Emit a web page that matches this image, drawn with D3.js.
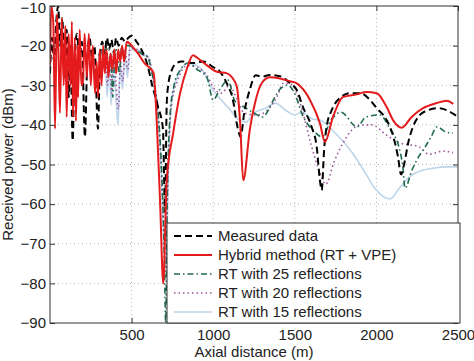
<!DOCTYPE html>
<html>
<head>
<meta charset="utf-8">
<script src="https://cdn.jsdelivr.net/npm/d3@7"></script>
<style>
  body { margin: 0; background: #fff; }
  svg { font-family: "Liberation Sans", Arial, sans-serif; }
</style>
</head>
<body>
<svg id="chart" width="474" height="361"></svg>
<script>
// Data: [axial distance (m), received power (dBm)]
const measured = [[0,-27],[12,-18],[25,-24],[40,-13],[50,-10],[62,-20],[75,-13],[90,-28],[102,-16],[115,-33],[125,-20],[139,-44],[150,-24],[165,-17],[180,-23],[195,-19],[214,-43],[228,-24],[242,-18],[258,-23],[272,-20],[294,-41],[306,-24],[320,-19],[334,-22],[349,-18],[362,-21],[376,-18.5],[392,-22],[405,-18],[420,-20],[440,-18],[460,-19],[480,-18],[500,-17.5],[530,-19],[560,-21],[600,-25.3],[623,-29.5],[662,-35.4],[692,-41],[705,-62],[715,-35],[723,-30.4],[746,-26.2],[776,-24.4],[807,-24],[837,-24.1],[876,-24.4],[938,-24],[999,-25.4],[1042,-26.6],[1083,-29.5],[1121,-33.7],[1150,-40.8],[1168,-43],[1190,-37],[1225,-31],[1260,-27.5],[1300,-27.8],[1348,-27.4],[1409,-27.7],[1471,-29.5],[1512,-31.2],[1550,-35.5],[1603,-40.5],[1634,-45.5],[1654,-54],[1665,-56.5],[1680,-46],[1695,-40.5],[1726,-36.3],[1777,-33.2],[1838,-32],[1900,-32],[1961,-33.7],[2002,-35.8],[2063,-38.8],[2104,-43],[2132,-48],[2151,-52.5],[2175,-48.9],[2194,-44.7],[2224,-40.5],[2267,-37.5],[2316,-36.3],[2377,-35.8],[2431,-36.3],[2482,-37.5],[2500,-38]];

const hybrid = [[0,-25],[8,-10],[20,-14],[31,-41],[42,-12],[52,-22],[61,-37],[72,-13],[84,-30],[94,-15],[102,-38],[114,-17],[126,-30],[134,-14],[141,-38],[152,-18],[159,-39],[168,-20],[172,-33],[182,-16],[192,-30],[202,-29],[212,-17],[226,-28],[238,-17],[250,-30],[262,-20],[276,-32],[286,-24],[294,-33],[305,-21],[316,-30],[326,-20],[336,-27],[346,-21],[358,-28],[370,-22],[382,-26],[394,-21],[406,-27],[418,-21],[430,-24],[442,-20],[454,-24],[470,-19],[490,-19.5],[510,-20.5],[540,-22],[580,-24.5],[613,-25.7],[635,-27],[655,-40],[675,-60],[694,-80],[715,-54],[755,-42],[797,-32],[840,-25.7],[876,-22.4],[900,-23],[962,-25],[1023,-26.6],[1084,-27],[1115,-28],[1145,-30.4],[1165,-39.5],[1184,-54],[1225,-41],[1256,-34.5],[1297,-29.5],[1348,-28],[1409,-28.3],[1470,-29],[1512,-29.5],[1560,-31.5],[1593,-33.7],[1654,-39.6],[1685,-44.3],[1734,-38],[1795,-33],[1879,-32.3],[1941,-31.7],[2002,-32],[2063,-35.5],[2102,-38.8],[2155,-40.7],[2216,-38],[2286,-35.8],[2369,-34.5],[2431,-33.9],[2471,-34.7]];

const rt25 = [[300,-22],[330,-25],[345,-20],[360,-27],[372,-22],[385,-33],[395,-24],[410,-21],[425,-27],[440,-20],[455,-24],[470,-20],[490,-20],[520,-21],[560,-22],[600,-23],[620,-26],[640,-30],[660,-36],[680,-48],[700,-72],[709,-90],[718,-60],[735,-38],[760,-30],[800,-26],[846,-24.4],[900,-26],[962,-28],[999,-33.7],[1042,-31],[1090,-28.7],[1133,-34],[1195,-35.6],[1250,-37],[1300,-38],[1385,-32.5],[1409,-31],[1458,-30],[1495,-31.7],[1550,-37.8],[1611,-41.3],[1667,-43],[1722,-38.8],[1783,-36.8],[1881,-40.5],[1936,-38],[2022,-37.5],[2083,-41],[2138,-45.6],[2163,-51],[2175,-56],[2218,-51.4],[2261,-47.9],[2298,-45.6],[2335,-43],[2371,-40.5],[2426,-41.8],[2469,-42.1]];

const rt20 = [[300,-22],[322,-26],[338,-21],[352,-30],[364,-23],[378,-32],[390,-22],[404,-29],[418,-36],[432,-24],[446,-29],[460,-21],[476,-26],[492,-20],[515,-21],[545,-21],[575,-22.5],[605,-23],[625,-26.5],[645,-31],[662,-38],[682,-52],[700,-70],[710,-78],[722,-55],[742,-36],[780,-29],[846,-25],[900,-25.5],[962,-27.5],[1000,-30.5],[1050,-32],[1100,-30],[1140,-33],[1190,-37],[1270,-37.5],[1390,-33],[1430,-29.5],[1480,-29.8],[1512,-32],[1550,-37],[1600,-45],[1654,-52],[1690,-55],[1740,-49.4],[1795,-44.6],[1850,-41.3],[1900,-40],[1970,-40],[2063,-42.6],[2145,-44.6],[2200,-45],[2260,-45.5],[2323,-47.4],[2410,-46.6],[2470,-47]];

const rt15 = [[300,-22],[320,-27],[337,-22],[350,-33],[362,-24],[375,-35],[388,-23],[400,-30],[417,-40],[430,-25],[445,-31],[458,-22],[475,-28],[490,-20],[510,-21],[540,-21],[570,-22.5],[600,-22.5],[620,-26],[635,-30],[660,-36],[680,-50],[700,-72],[712,-75],[725,-52],[745,-34],[790,-27],[846,-24.5],[900,-25],[940,-26.6],[980,-30],[1030,-32.8],[1100,-36],[1160,-38.8],[1200,-39.3],[1250,-37],[1320,-35.8],[1380,-34.5],[1450,-36.5],[1500,-37.5],[1544,-36.8],[1605,-38.5],[1654,-38.8],[1746,-42],[1850,-46.9],[1930,-52],[1990,-56],[2083,-58.7],[2140,-56],[2206,-53],[2280,-51.5],[2335,-51],[2420,-50.6],[2500,-50.6]];

const xTicks = [500, 1000, 1500, 2000, 2500];
const yTicks = [-90, -80, -70, -60, -50, -40, -30, -20, -10];

const legendNames = ["Measured data", "Hybrid method (RT + VPE)", "RT with 25 reflections", "RT with 20 reflections", "RT with 15 reflections"];

const margin = { top: 6, right: 16, bottom: 38, left: 50 };
const svg = d3.select("#chart");
const W = +svg.attr("width"), H = +svg.attr("height");
const w = W - margin.left - margin.right;
const h = H - margin.top - margin.bottom;

const x = d3.scaleLinear().domain([0, 2500]).range([0, w]);
const y = d3.scaleLinear().domain([-90, -10]).range([h, 0]);

const g = svg.append("g").attr("transform", `translate(${margin.left},${margin.top})`);

// dotted grid
g.append("g").selectAll("line").data(xTicks.slice(0, -1)).join("line")
    .attr("x1", d => x(d)).attr("x2", d => x(d))
    .attr("y1", 0).attr("y2", h)
    .attr("stroke", "#b5b5b5").attr("stroke-dasharray", "1,3");
g.append("g").selectAll("line").data(yTicks.slice(1, -1)).join("line")
    .attr("x1", 0).attr("x2", w)
    .attr("y1", d => y(d)).attr("y2", d => y(d))
    .attr("stroke", "#b5b5b5").attr("stroke-dasharray", "1,3");

svg.append("defs").append("clipPath").attr("id", "clip")
    .append("rect").attr("width", w).attr("height", h);

const line = d3.line().x(d => x(d[0])).y(d => y(d[1])).curve(d3.curveMonotoneX);

const series = [
    { data: rt15, color: "#bcd5ea", width: 1.6, dash: null },
    { data: rt20, color: "#a0529c", width: 1.6, dash: "1.5,3" },
    { data: rt25, color: "#1f6b4c", width: 1.6, dash: "6,3,1.5,3" },
    { data: measured, color: "#000", width: 2, dash: "7,4" },
    { data: hybrid, color: "#e41a1c", width: 2, dash: null }
];

const plot = g.append("g").attr("clip-path", "url(#clip)");
series.forEach(s => {
    plot.append("path")
        .datum(s.data)
        .attr("fill", "none")
        .attr("stroke", s.color)
        .attr("stroke-width", s.width)
        .attr("stroke-dasharray", s.dash)
        .attr("stroke-linejoin", "round")
        .attr("d", line);
});

// axes, ticks pointing inward
const axisColor = "#333";
const axLeft = g.append("g")
    .call(d3.axisLeft(y).tickValues(yTicks).tickSizeInner(-5).tickSizeOuter(0).tickPadding(4));
const axBottom = g.append("g").attr("transform", `translate(0,${h})`)
    .call(d3.axisBottom(x).tickValues(xTicks).tickFormat(d3.format("d"))
        .tickSizeInner(-5).tickSizeOuter(0).tickPadding(6));
const axRight = g.append("g").attr("transform", `translate(${w},0)`)
    .call(d3.axisRight(y).tickValues(yTicks).tickSizeInner(-5).tickSizeOuter(0).tickFormat(""));
const axTop = g.append("g")
    .call(d3.axisTop(x).tickValues(xTicks).tickSizeInner(-5).tickSizeOuter(0).tickFormat(""));

[axLeft, axBottom, axRight, axTop].forEach(a => {
    a.select(".domain").remove();
    a.selectAll("line").attr("stroke", axisColor);
    a.selectAll("text").attr("fill", "#222").style("font-size", "15px")
        .style("font-family", "'Liberation Sans', Arial, sans-serif");
});
// keep the top label inside the frame
axLeft.selectAll(".tick text").filter(d => d === -10).attr("dy", "0.45em");

g.append("rect").attr("width", w).attr("height", h)
    .attr("fill", "none").attr("stroke", axisColor).attr("stroke-width", 1);

// axis titles
svg.append("text")
    .attr("x", margin.left + w / 2).attr("y", 357)
    .attr("text-anchor", "middle").attr("font-size", 15).attr("fill", "#222")
    .text("Axial distance (m)");
svg.append("text")
    .attr("transform", `translate(13,${margin.top + h / 2}) rotate(-90)`)
    .attr("text-anchor", "middle").attr("font-size", 15).attr("fill", "#222")
    .text("Received power (dBm)");

// legend
const lg = svg.append("g");
lg.append("rect")
    .attr("x", 167).attr("y", 223).attr("width", 293).attr("height", 100)
    .attr("fill", "#fff").attr("stroke", axisColor).attr("stroke-width", 1);
const legendSeries = [series[3], series[4], series[2], series[1], series[0]];
legendNames.forEach((name, i) => {
    const s = legendSeries[i];
    const cy = 236 + i * 19;
    lg.append("line")
        .attr("x1", 174).attr("x2", 212).attr("y1", cy).attr("y2", cy)
        .attr("stroke", s.color).attr("stroke-width", s.width)
        .attr("stroke-dasharray", s.dash);
    lg.append("text")
        .attr("x", 218).attr("y", cy).attr("dy", "0.35em")
        .attr("font-size", 15).attr("fill", "#222")
        .text(name);
});
</script>
</body>
</html>
